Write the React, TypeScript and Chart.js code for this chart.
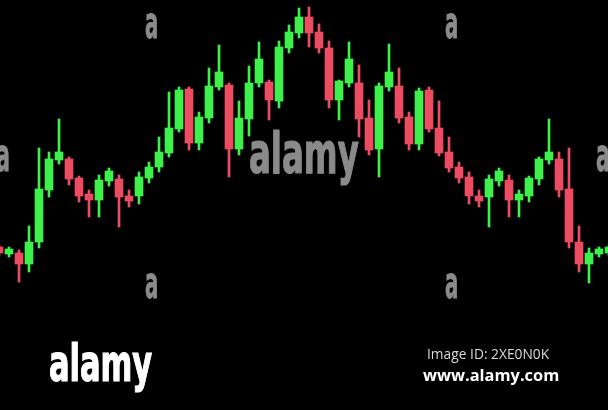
import React, { useEffect, useLayoutEffect, useRef } from "react";
import { Chart, registerables } from "chart.js";

Chart.register(...registerables);

// Candle prices (arbitrary price units), one entry per session
const openPrices = [
  163, 156, 157, 146, 168, 220, 250, 251, 232, 216, 210, 229, 231, 214, 214, 232,
  243, 257, 281, 321, 267, 292, 323, 325, 261, 291, 327, 328, 309, 362, 377,
  393, 378, 362, 310, 327, 327, 292, 261, 323, 324, 293, 266, 320, 282, 258,
  243, 233, 214, 213, 229, 230, 210, 214, 231, 250, 251, 221, 168, 146, 156, 157,
];
const highPrices = [
  165, 163, 160, 184, 262, 258, 291, 253, 234, 220, 235, 242, 235, 220, 238, 248,
  273, 318, 323, 323, 298, 342, 365, 327, 309, 344, 368, 330, 369, 385, 402,
  403, 386, 369, 330, 368, 345, 310, 327, 366, 342, 298, 322, 323, 309, 273,
  248, 238, 220, 235, 242, 235, 220, 234, 253, 291, 258, 262, 184, 162, 163, 165,
];
const lowPrices = [
  154, 153, 128, 138, 162, 213, 246, 225, 208, 193, 193, 224, 183, 203, 206, 227,
  238, 253, 278, 260, 260, 287, 320, 233, 255, 274, 323, 290, 302, 357, 372,
  363, 357, 302, 290, 323, 273, 255, 233, 319, 287, 260, 260, 278, 254, 238,
  227, 206, 203, 183, 224, 193, 193, 208, 225, 246, 213, 162, 138, 127, 153, 154,
];
const closePrices = [
  157, 161, 146, 168, 221, 251, 258, 231, 214, 210, 230, 239, 213, 209, 233, 243,
  258, 282, 320, 267, 293, 324, 338, 261, 292, 327, 351, 310, 363, 378, 393,
  377, 362, 310, 329, 351, 291, 260, 324, 338, 292, 266, 319, 281, 257, 242,
  232, 214, 209, 231, 239, 210, 216, 232, 251, 258, 220, 168, 146, 157, 161, 163,
];

const GREEN = "#3ef04c";
const RED = "#eb4c62";

const LOGO_FONT = "'Liberation Sans Narrow', 'DejaVu Sans Condensed', 'Liberation Sans', Arial, sans-serif";
const INFO_FONT = "'Open Sans', 'Noto Sans', sans-serif";

type MarkProps = {
  text: string;
  left: number;
  baseline: number;
  size: number;
  width: number;
  color: string;
  font: string;
  weight: number;
  ratio: number;
  stroke?: number;
};

function Mark({ text, left, baseline, size, width, color, font, weight, ratio, stroke = 0 }: MarkProps) {
  const ref = useRef<HTMLSpanElement>(null);
  useLayoutEffect(() => {
    const el = ref.current;
    if (!el) return;
    const apply = () => {
      el.style.transform = "none";
      const w = el.offsetWidth;
      if (w > 0) el.style.transform = `scaleX(${width / w})`;
    };
    apply();
    const fs = (document as any).fonts;
    if (fs && fs.ready) fs.ready.then(apply);
  }, [width]);
  const style: any = {
    position: "absolute",
    left,
    top: baseline - ratio * size,
    fontSize: size,
    lineHeight: `${size}px`,
    fontFamily: font,
    fontWeight: weight,
    color,
    whiteSpace: "nowrap",
    transformOrigin: "0 0",
    display: "inline-block",
  };
  if (stroke > 0) {
    style.WebkitTextStroke = `${stroke}px ${color}`;
  }
  return (
    <span ref={ref} style={style}>
      {text}
    </span>
  );
}

export default function App() {
  const canvasRef = useRef<HTMLCanvasElement>(null);

  useEffect(() => {
    const canvas = canvasRef.current;
    if (!canvas) return;
    const idx = openPrices.map((_, i) => i);
    const colors = idx.map((i) => (closePrices[i] >= openPrices[i] ? GREEN : RED));
    const chart = new Chart(canvas, {
      type: "bar",
      data: {
        datasets: [
          {
            label: "body",
            data: idx.map((i) => ({ x: i, y: [openPrices[i], closePrices[i]] })) as any,
            backgroundColor: colors,
            borderWidth: 0,
            barThickness: 8,
            grouped: false,
          } as any,
          {
            label: "wick",
            data: idx.map((i) => ({ x: i, y: [lowPrices[i], highPrices[i]] })) as any,
            backgroundColor: colors,
            borderWidth: 0,
            barThickness: 2,
            grouped: false,
          } as any,
        ],
      },
      options: {
        animation: false,
        responsive: false,
        events: [],
        layout: { padding: 0 },
        plugins: {
          legend: { display: false },
          tooltip: { enabled: false },
          title: { display: false },
        },
        scales: {
          x: { type: "linear", min: 0.1, max: 60.9, offset: false, display: false },
          y: { type: "linear", min: 0, max: 410, display: false },
        },
      },
    });
    return () => chart.destroy();
  }, []);

  const gray = "#8a8a8a";
  return (
    <div
      style={{
        position: "fixed",
        left: 0,
        top: 0,
        width: 608,
        height: 410,
        background: "#000",
        overflow: "hidden",
      }}
    >
      <canvas ref={canvasRef} width={608} height={410} style={{ position: "absolute", left: 0, top: 0 }} />
      <Mark text="a" left={145} baseline={38} size={44} width={13.5} color={gray} font={LOGO_FONT} weight={700} ratio={0.846} stroke={0.8} />
      <Mark text="a" left={445} baseline={38} size={44} width={13.5} color={gray} font={LOGO_FONT} weight={700} ratio={0.846} stroke={0.8} />
      <Mark text="a" left={-4} baseline={171} size={46} width={14} color={gray} font={LOGO_FONT} weight={700} ratio={0.846} stroke={0.8} />
      <Mark text="a" left={596} baseline={171} size={46} width={14} color={gray} font={LOGO_FONT} weight={700} ratio={0.846} stroke={0.8} />
      <Mark text="a" left={145} baseline={298} size={44} width={13.5} color={gray} font={LOGO_FONT} weight={700} ratio={0.846} stroke={0.8} />
      <Mark text="a" left={445} baseline={298} size={44} width={13.5} color={gray} font={LOGO_FONT} weight={700} ratio={0.846} stroke={0.8} />
      <Mark text="alamy" left={249} baseline={173} size={57} width={110} color={gray} font={LOGO_FONT} weight={700} ratio={0.846} stroke={1.2} />
      <Mark text="alamy" left={49} baseline={381} size={52} width={103} color="#ffffff" font={LOGO_FONT} weight={700} ratio={0.846} stroke={1.2} />
      <Mark text="Image ID: 2XE0N0K" left={427} baseline={359} size={14} width={122} color="#dadada" font={INFO_FONT} weight={400} ratio={0.888} />
      <Mark text="www.alamy.com" left={423} baseline={382} size={16.5} width={136} color="#ffffff" font={INFO_FONT} weight={700} ratio={0.888} />
    </div>
  );
}
